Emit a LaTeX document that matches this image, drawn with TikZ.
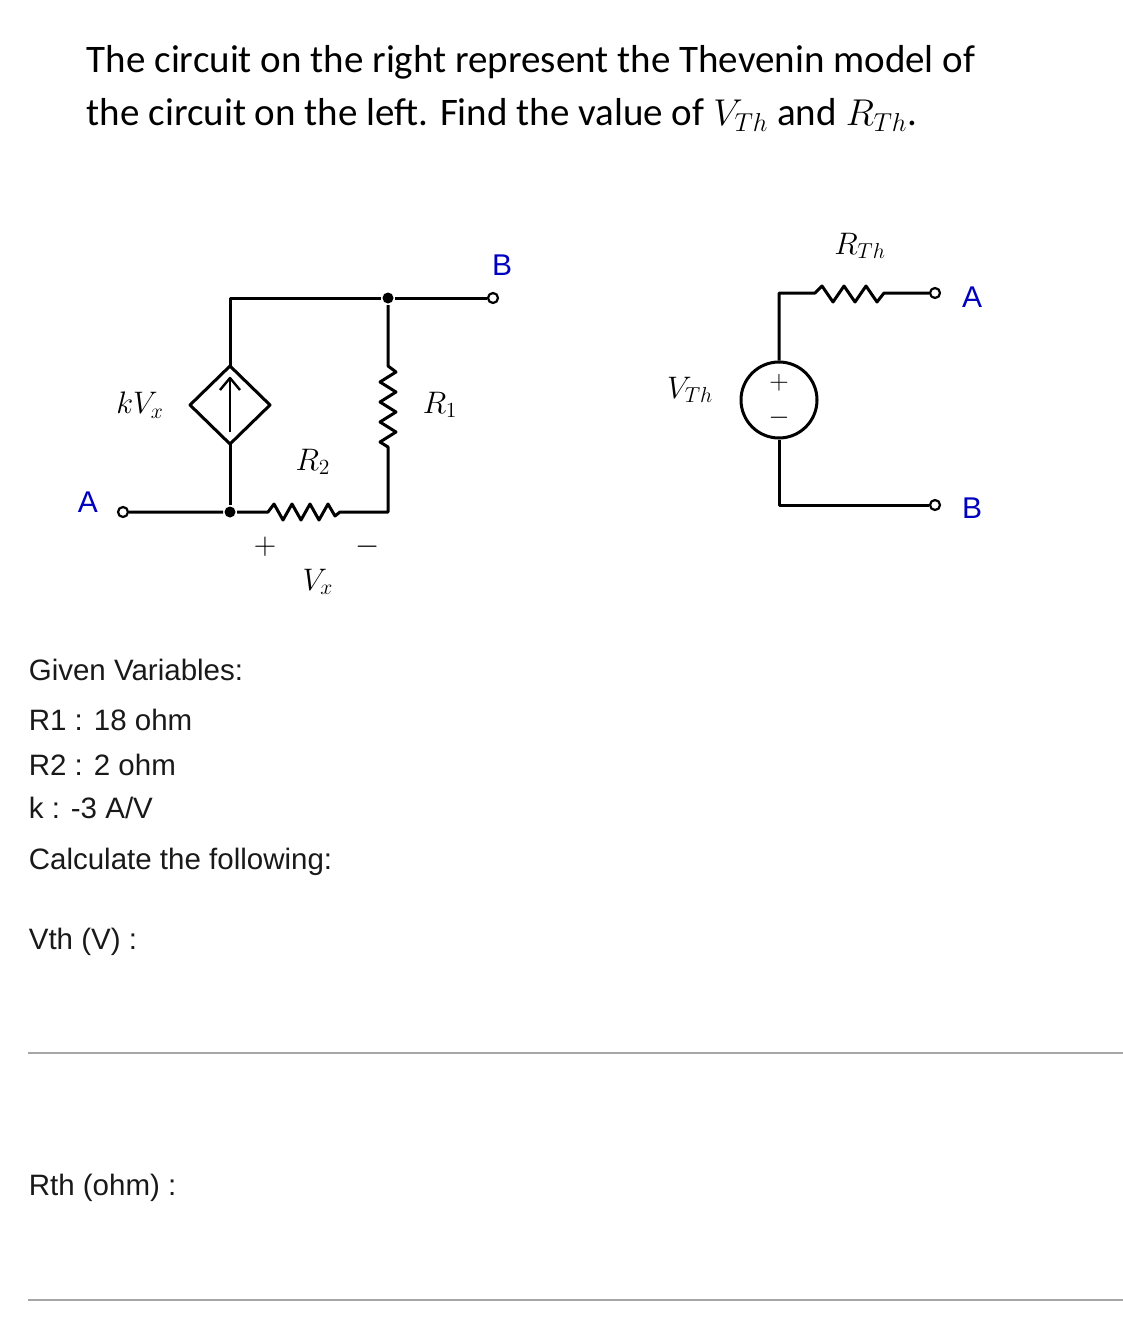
\documentclass[tikz,border=0pt]{standalone}
\usepackage{fontspec}
\setmainfont{Liberation Sans}
\newfontfamily\titlefont{Carlito}
\newcommand\mymath[2]{\scalebox{#1}{\fontsize{20}{24}\selectfont$#2$}}
\begin{document}
\begin{tikzpicture}[x=1pt,y=-1pt,line width=3pt,line join=round,
  term/.style={circle,draw,line width=2.2pt,fill=white,inner sep=0pt,minimum size=10pt},
  dot/.style={circle,fill,inner sep=0pt,minimum size=11pt},
  lab/.style={},
  tlab/.style={text=blue!75!black,font=\fontsize{30}{36}\selectfont},
  body/.style={anchor=west,font=\fontsize{29.5}{34}\selectfont,text=black!90}]
\useasboundingbox (0,0) rectangle (1123,1327);
% title
\node[anchor=west,font=\titlefont\fontsize{39}{46}\selectfont] (t1) at (82,62) {The circuit on the right represent the Thevenin model of};
\node[anchor=west,font=\titlefont\fontsize{39}{46}\selectfont] (t2) at (82,115) {the circuit on the left. Find the value of \mymath{1.8}{V_{Th}} and \mymath{1.8}{R_{Th}}.};
% left circuit
\node[term] (B1) at (493,298) {};
\node[term] (A1) at (123,512) {};
\node[dot] (d1) at (388,298) {};
\node[dot] (d2) at (230,512) {};
\coordinate (tl) at (230,298);
\coordinate (dt) at (230,366);
\coordinate (db) at (230,444);
\draw (dt) -- (270,405) -- (db) -- (190,405) -- cycle;
\draw[line width=2.4pt] (230,432) -- (230,378);
\draw[line width=2.4pt] (220,390) -- (230,378) -- (240,390);
\draw (B1) -- (d1) -- (tl) -- (dt);
\draw (db) -- (d2);
\draw (A1) -- (d2) -- (268,512) -- (274,504) -- (283,520) -- (292,504) -- (301,520) -- (310,504) -- (319,520) -- (328,504) -- (335,516) -- (340,512) -- (388,512) -- (388,447)
 -- (380,442) -- (396,432) -- (380,422) -- (396,412) -- (380,402) -- (396,392) -- (380,382) -- (396,372) -- (388,366) -- (d1);
\node[lab] (kv) at (140,405) {\mymath{1.5}{kV_x}};
\node[lab] (r1) at (440,405) {\mymath{1.5}{R_1}};
\node[lab] (r2) at (313,462) {\mymath{1.5}{R_2}};
\node[lab] (pl) at (265,547) {\mymath{1.5}{+}};
\node[lab] (mi) at (368,547) {\mymath{1.5}{-}};
\node[lab] (vx) at (318,582) {\mymath{1.5}{V_x}};
\node[tlab] (Bl) at (502,265) {B};
\node[tlab] (Al) at (88,502) {A};
% right circuit
\node[circle,draw,minimum size=76pt,inner sep=0pt] (src) at (779,400) {};
\node at (779,383) {\mymath{1.3}{+}};
\node at (779,418) {\mymath{1.3}{-}};
\node[term] (A2) at (935,293) {};
\node[term] (B2) at (935,505) {};
\draw (src.north) -- (779,293) -- (815,293) -- (822,286) -- (833,302) -- (844,286) -- (855,302) -- (866,286) -- (877,302) -- (884,293) -- (A2);
\draw (src.south) -- (779,505) -- (B2);
\node[lab] (rth) at (860,246) {\mymath{1.5}{R_{Th}}};
\node[lab] (vth) at (690,390) {\mymath{1.5}{V_{Th}}};
\node[tlab] (Ar) at (972,297) {A};
\node[tlab] (Br) at (972,508) {B};
% text
\node[body] (g) at (24,670) {Given Variables:};
\node[body] (a) at (24,720) {R1 : 18 ohm};
\node[body] (b) at (24,765) {R2 : 2 ohm};
\node[body] (c) at (24,808) {k : -3 A/V};
\node[body] (e) at (24,862) {Calculate the following:};
\node[body] (f) at (24,942) {Vth (V) :};
\node[body] (h) at (24,1188) {Rth (ohm) :};
\draw[black!35,line width=1.2pt] (28,1053) -- (1123,1053);
\draw[black!35,line width=1.2pt] (28,1300) -- (1123,1300);
\end{tikzpicture}
\end{document}
